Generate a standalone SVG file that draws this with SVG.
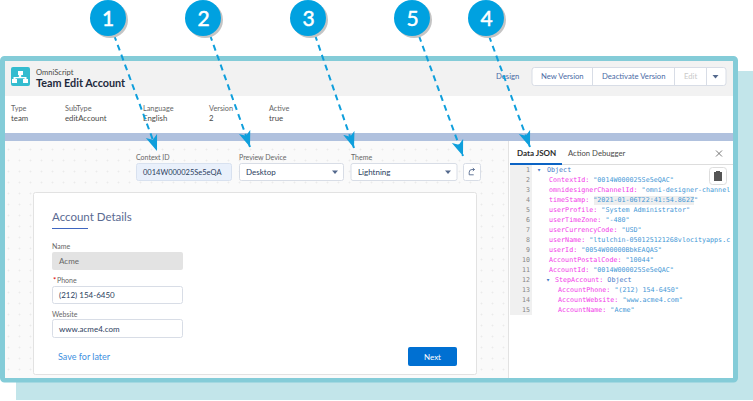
<svg xmlns="http://www.w3.org/2000/svg" width="753" height="401" viewBox="0 0 753 401">
<style>
text{font-family:Lato,"Liberation Sans",sans-serif;fill:#4a4a48;font-size:7.800px}
.lb{fill:#666;font-size:7px}
.mt{fill:#666;font-size:7.300px}
.val{fill:#2c3e5e;font-size:8px}
.btn{fill:#4a6aa5;font-size:7.700px}
.box{fill:#fff;stroke:#d8dde6;stroke-width:1}
.mono{font-family:"DejaVu Sans Mono","Liberation Mono",monospace;font-size:6.700px}
.k{fill:#f23ae8}.s{fill:#3f97d6}.o{fill:#4a7cc8}.n{fill:#888;text-anchor:end;font-size:6.600px;font-family:"DejaVu Sans Mono",monospace}
.num{font-size:21px;font-weight:400;fill:#fff;stroke:#fff;stroke-width:.5;text-anchor:middle}
.conn{fill:none;stroke:#0f9fdc;stroke-width:2;stroke-dasharray:6 4.500}
.sh{fill:#c4c4c4}.bd{fill:#00a1e0}
.tri{fill:#54698d}
</style>
<defs>
<pattern id="dots" width="11" height="11" patternUnits="userSpaceOnUse" x="3" y="144">
<path d="M4.500 5.500h2M5.500 4.500v2" stroke="#e8e8e8" stroke-width=".6"/>
</pattern>
<marker id="ah" markerUnits="userSpaceOnUse" markerWidth="20" markerHeight="16" refX="16" refY="7" orient="auto">
<path d="M0 1L16 7L0 13L4 7Z" fill="#0f9fdc"/>
</marker>
</defs>
<rect x="16" y="71" width="737" height="329" fill="#c2e5ea"/>
<g id="window">
<rect x="2.500" y="58.500" width="733" height="321.500" rx="2" fill="#fff" stroke="#84ccd8" stroke-width="5"/>
<rect x="5" y="61" width="728" height="35" fill="#f2f2f2"/>
<rect x="5" y="133" width="728" height="8" fill="#b0c1de"/>
<rect x="5" y="141" width="503" height="237" fill="#fafafa"/>
<rect x="5" y="141" width="503" height="237" fill="url(#dots)"/>
<rect x="11" y="67" width="19" height="19" rx="2" fill="#34bccf"/>
<path d="M18 71h5v4h-1.800v2h5.300v2h1.500v4h-5v-4h1.500v-0.800h-9v0.800h1.500v4h-5v-4h1.500v-2h5.300v-2H18z" fill="#fff"/>
<text x="36" y="74.500" style="font-size:7.600px">OmniScript</text>
<text x="36" y="87" style="font-size:10.800px;font-weight:700;fill:#1f2a3d">Team Edit Account</text>
<text x="496" y="79" class="btn">Design</text>
<rect x="532" y="67.500" width="194" height="18" rx="2.500" class="box"/>
<path d="M592.500 68v17M674.500 68v17M706.500 68v17" stroke="#d8dde6"/>
<text x="541" y="79" class="btn">New Version</text>
<text x="602" y="79" class="btn">Deactivate Version</text>
<text x="684" y="79" class="btn" style="fill:#c9c9c9">Edit</text>
<path d="M712.500 75h6l-3 3.500z" class="tri"/>
</g>
<g id="meta">
<text x="11" y="111" class="mt">Type</text><text x="11" y="121">team</text>
<text x="65" y="111" class="mt">SubType</text><text x="65" y="121">editAccount</text>
<text x="143" y="111" class="mt">Language</text><text x="143" y="121">English</text>
<text x="209" y="111" class="mt">Version</text><text x="209" y="121">2</text>
<text x="269" y="111" class="mt">Active</text><text x="269" y="121">true</text>
</g>
<g id="context-id">
<text x="136" y="160" class="lb">Context ID</text>
<rect x="136.500" y="163.500" width="95" height="17" rx="2" fill="#e9f0fb" stroke="#d8e1ef"/>
<text x="143" y="175" class="val" style="font-size:7.500px">0014W000025Se5eQA</text>
</g>
<g id="preview-device">
<text x="239" y="160" class="lb">Preview Device</text>
<rect x="239.500" y="163.500" width="104" height="17" rx="2" class="box"/>
<text x="246" y="175" class="val">Desktop</text>
<path d="M332 170.500h6l-3 3.500z" class="tri"/>
</g>
<g id="theme">
<text x="351" y="160" class="lb">Theme</text>
<rect x="351" y="163.500" width="106" height="17" rx="2" class="box"/>
<text x="358" y="175" class="val">Lightning</text>
<path d="M445 170.500h6l-3 3.500z" class="tri"/>
</g>
<g id="refresh">
<rect x="463.500" y="163.500" width="17" height="17" rx="2" class="box"/>
<path d="M474.500 169.500h-2.500a2.800 2.800 0 0 0-2.800 2.800v2.500h4.500M472.800 168l1.700 1.500-1.700 1.500" fill="none" stroke="#54698d" stroke-width=".9"/>
</g>
<g id="account-card">
<rect x="33.500" y="192.500" width="443" height="182" rx="2" fill="#fff" stroke="#e2e2e2"/>
<text x="52" y="221" style="font-size:11.500px;fill:#5a6a92">Account Details</text>
<rect x="52" y="228" width="36" height="1" fill="#3f66c0"/>
<text x="52" y="249" class="lb">Name</text>
<rect x="52" y="252" width="131" height="18" rx="2" fill="#e3e3e3"/>
<text x="59" y="264" class="val" style="fill:#666">Acme</text>
<text x="53" y="283" style="fill:#d00">*</text><text x="57" y="283" class="lb">Phone</text>
<rect x="52.500" y="286.500" width="130" height="17" rx="2" class="box"/>
<text x="59" y="298" class="val">(212) 154-6450</text>
<text x="52" y="317" class="lb">Website</text>
<rect x="52.500" y="319.500" width="130" height="18" rx="2" class="box"/>
<text x="59" y="332" class="val">www.acme4.com</text>
<text x="58" y="360" style="font-size:9px;fill:#3d8fe0">Save for later</text>
<rect x="408" y="347" width="49" height="19" rx="2" fill="#0070d2"/>
<text x="432.500" y="360" text-anchor="middle" style="font-size:8px;fill:#fff">Next</text>
</g>
<g id="data-panel">
<rect x="508.500" y="141" width="224.500" height="237" fill="#fff"/>
<path d="M508.500 141v237" stroke="#e2e2e2"/>
<rect x="510" y="164" width="223" height="1" fill="#ddd"/>
<rect x="510" y="163" width="52" height="2" fill="#0b63c4"/>
<text x="517" y="156" style="font-size:8px;font-weight:700;fill:#2b2b2b">Data JSON</text>
<text x="568" y="156" style="font-size:7.700px">Action Debugger</text>
<path d="M716 150.500l6 6M722 150.500l-6 6" stroke="#555" stroke-width=".8"/>
<rect x="510" y="165" width="22" height="150" fill="#f0f0f0"/>
<text x="530" y="172" class="n">1</text><text x="530" y="182" class="n">2</text><text x="530" y="192" class="n">3</text><text x="530" y="202" class="n">4</text><text x="530" y="212" class="n">5</text><text x="530" y="222" class="n">6</text><text x="530" y="232" class="n">7</text><text x="530" y="242" class="n">8</text><text x="530" y="252" class="n">9</text><text x="530" y="262" class="n">10</text><text x="530" y="272" class="n">11</text><text x="530" y="282" class="n">12</text><text x="530" y="292" class="n">13</text><text x="530" y="302" class="n">14</text><text x="530" y="312" class="n">15</text>
<text x="537" y="172" class="mono o">▾</text><text x="547" y="172" class="mono o">Object</text>
<text x="549" y="182" class="mono"><tspan class="k">ContextId:</tspan> <tspan class="s">"0014W000025Se5eQAC"</tspan></text>
<text x="549" y="192" class="mono"><tspan class="k">omnidesignerChannelId:</tspan> <tspan class="s">"omni-designer-channel</tspan></text>
<rect x="594" y="196" width="100" height="9" fill="#eee"/>
<text x="549" y="202" class="mono"><tspan class="k">timeStamp:</tspan> <tspan class="s">"2021-01-06T22:41:54.862Z"</tspan></text>
<text x="549" y="212" class="mono"><tspan class="k">userProfile:</tspan> <tspan class="s">"System Administrator"</tspan></text>
<text x="549" y="222" class="mono"><tspan class="k">userTimeZone:</tspan> <tspan class="s">"-480"</tspan></text>
<text x="549" y="232" class="mono"><tspan class="k">userCurrencyCode:</tspan> <tspan class="s">"USD"</tspan></text>
<text x="549" y="242" class="mono"><tspan class="k">userName:</tspan> <tspan class="s">"ltulchin-050125121268vlocityapps.c</tspan></text>
<text x="549" y="252" class="mono"><tspan class="k">userId:</tspan> <tspan class="s">"0054W00000BbkEAQAS"</tspan></text>
<text x="549" y="262" class="mono"><tspan class="k">AccountPostalCode:</tspan> <tspan class="s">"10044"</tspan></text>
<text x="549" y="272" class="mono"><tspan class="k">AccountId:</tspan> <tspan class="s">"0014W000025Se5eQAC"</tspan></text>
<text x="546" y="282" class="mono o">▾</text><text x="555" y="282" class="mono"><tspan class="k">StepAccount:</tspan>  <tspan class="o">Object</tspan></text>
<text x="558" y="292" class="mono"><tspan class="k">AccountPhone:</tspan> <tspan class="s">"(212) 154-6450"</tspan></text>
<text x="558" y="302" class="mono"><tspan class="k">AccountWebsite:</tspan> <tspan class="s">"www.acme4.com"</tspan></text>
<text x="558" y="312" class="mono"><tspan class="k">AccountName:</tspan> <tspan class="s">"Acme"</tspan></text>
<rect x="709.500" y="167.500" width="17" height="17" rx="3" fill="#fff" stroke="#ddd"/>
<path d="M714 172h2v-1h4v1h2v9h-8z" fill="#555"/>
</g>
<g id="connectors">
<path class="conn" d="M114 35L157 151" marker-end="url(#ah)"/>
<path class="conn" d="M210 35L250 147" marker-end="url(#ah)"/>
<path class="conn" d="M315 35L354 148" marker-end="url(#ah)"/>
<path class="conn" d="M419 36L463 156" marker-end="url(#ah)"/>
<path class="conn" d="M489 36L530 147" marker-end="url(#ah)"/>
</g>
<g id="badge-1"><circle cx="110" cy="20" r="18" class="sh"/><circle cx="108" cy="18" r="18" class="bd"/><text x="108" y="25.500" class="num">1</text></g>
<g id="badge-2"><circle cx="205" cy="20" r="18" class="sh"/><circle cx="203" cy="18" r="18" class="bd"/><text x="203.500" y="25.500" class="num">2</text></g>
<g id="badge-3"><circle cx="310" cy="20" r="18" class="sh"/><circle cx="308" cy="18" r="18" class="bd"/><text x="308.500" y="25.500" class="num">3</text></g>
<g id="badge-5"><circle cx="414" cy="20" r="18" class="sh"/><circle cx="412" cy="18" r="18" class="bd"/><text x="412.500" y="25.500" class="num">5</text></g>
<g id="badge-4"><circle cx="488" cy="20" r="18" class="sh"/><circle cx="486" cy="18" r="18" class="bd"/><text x="486.500" y="25.500" class="num">4</text></g>
</svg>
